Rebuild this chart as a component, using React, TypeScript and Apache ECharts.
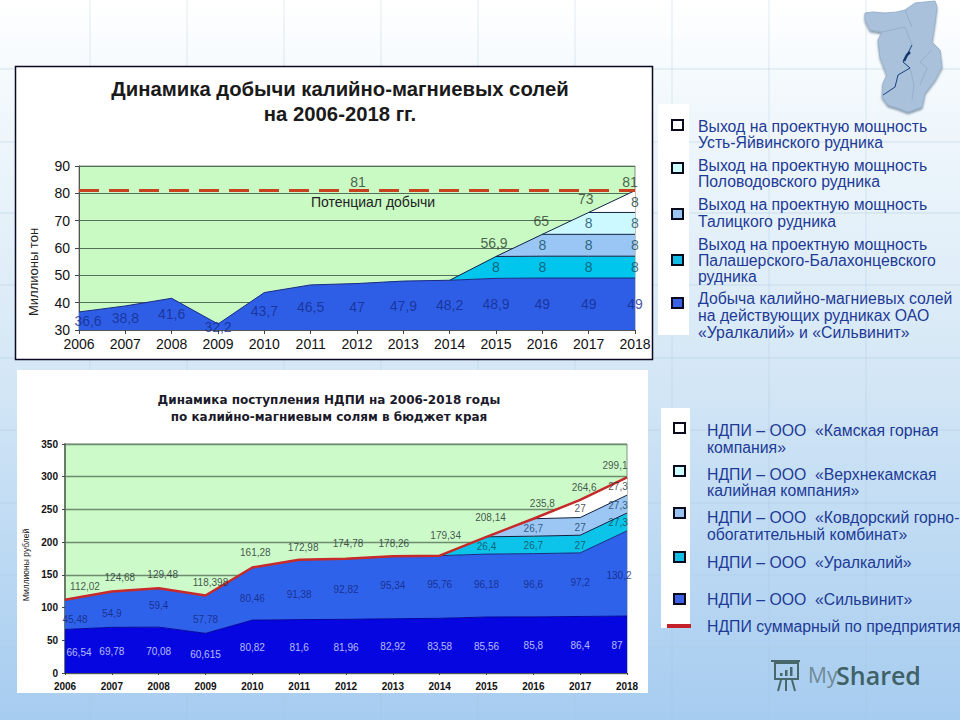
import React, { useEffect, useRef } from "react";
import * as echarts from "echarts";

const years = ["2006","2007","2008","2009","2010","2011","2012","2013","2014","2015","2016","2017","2018"];
const N: null = null;

// Upper chart: million tons
const mining = [36.6,38.8,41.6,32.2,43.7,46.5,47,47.9,48.2,48.9,49,49,49];
const palasher = [N,N,N,N,N,N,N,N,0,8,8,8,8];
const talitsky = [N,N,N,N,N,N,N,N,N,0,8,8,8];
const polovod = [N,N,N,N,N,N,N,N,N,N,0,8,8];
const ustYaiva = [N,N,N,N,N,N,N,N,N,N,N,0,8];
const potential = [81,81,81,81,81,81,81,81,81,81,81,81,81];
const miningTotals = [N,N,N,N,N,N,N,N,N,56.9,65,73,N];
const potentialLabels = [N,N,N,N,N,N,81,N,N,N,N,N,81];

// Lower chart: million rubles
const silvinit = [66.54,69.78,70.08,60.615,80.82,81.6,81.96,82.92,83.58,85.56,85.8,86.4,87];
const uralkali = [45.48,54.9,59.4,57.78,80.46,91.38,92.82,95.34,95.76,96.18,96.6,97.2,130.2];
const kovdor = [N,N,N,N,N,N,N,N,0,26.4,26.7,27,27.3];
const verkhnekamsk = [N,N,N,N,N,N,N,N,N,0,26.7,27,27.3];
const kamskaya = [N,N,N,N,N,N,N,N,N,N,0,27,27.3];
const ndpiTotal = [112.02,124.68,129.48,118.398,161.28,172.98,174.78,178.26,179.34,208.14,235.8,264.6,299.1];

const legendTop = [
  ["Выход на проектную мощность", "Усть-Яйвинского рудника"],
  ["Выход на проектную мощность", "Половодовского рудника"],
  ["Выход на проектную мощность", "Талицкого рудника"],
  ["Выход на проектную мощность", "Палашерского-Балахонцевского", "рудника"],
  ["Добыча калийно-магниевых солей", "на действующих рудниках ОАО", "«Уралкалий» и «Сильвинит»"],
];
const legendBottom = [
  ["НДПИ – ООО  «Камская горная", "компания»"],
  ["НДПИ – ООО  «Верхнекамская", "калийная компания»"],
  ["НДПИ – ООО  «Ковдорский горно-", "обогатительный комбинат»"],
  ["НДПИ – ООО  «Уралкалий»"],
  ["НДПИ – ООО  «Сильвинит»"],
  ["НДПИ суммарный по предприятиям"],
];

// Layout and style, kept apart from the values
const FONT = "'Liberation Sans', Arial, sans-serif";
const NAVY = "#1d3a96";
const topLegendLineY = [[126,142],[165,181],[204,221],[244,260,276],[298,315,332]];
const topSwatchY = [120,163,209,255,298];
const swatchColors = ["#ffffff","#ccffff","#99c4f2","#12bde6","#3b62e4"];
const botLegendLineY = [[430,447],[474,490],[517,534],[562],[599],[626]];
const botSwatchY = [423,466,508,552,594];
const gridXs = [90,187,284,381,478,575,672,769,866];
const gridYs = [69,142,213,285,358,430,503,575,647];
const mapOutline = [[865,13],[873,12],[885,13],[897,12],[905,10],[915,3],[935,1],[937,7],[935,23],[932,42],[940,50],[942,67],[935,80],[925,93],[922,107],[908,112],[898,108],[888,105],[882,97],[883,83],[887,75],[880,57],[878,40],[882,32],[870,30],[865,20]];
const mapRiver = [[912,45],[907,55],[903,62],[910,68],[898,75],[895,87],[883,95]];
const mapLake = [[910,52],[907,55],[904,61]];
const mapBorders = [[[882,32],[905,27],[912,45]],[[905,10],[912,27]],[[932,50],[920,62],[927,68],[920,85]],[[910,68],[914,85],[912,100]]];

const labelSeries = (
  grid: number, ys: (number | null)[], values: (number | null)[], color: string, size: number,
  dx: number[] | null, dy: number | number[], weight = "normal",
) => ({
  type: "scatter", xAxisIndex: grid, yAxisIndex: grid, symbolSize: 1, silent: true, z: 20,
  itemStyle: { color: "transparent" },
  data: years.flatMap((y, i) => {
    if (ys[i] == null || values[i] == null || values[i] === 0) return [];
    const off = [dx ? dx[i] : 0, Array.isArray(dy) ? dy[i] : dy];
    return [{
      value: [y, ys[i]],
      label: {
        show: true, position: "inside", offset: off, color, fontSize: size, fontFamily: FONT, fontWeight: weight,
        formatter: String(values[i]).replace(".", ","),
      },
    }];
  }),
});

const sumOf = (arrs: (number | null)[][], i: number) => arrs.reduce((s, a) => s + (a[i] ?? 0), 0);
const mids = (below: (number | null)[][], own: (number | null)[]) =>
  own.map((v, i) => (v == null ? null : sumOf(below, i) + v / 2));

const area = (name: string, grid: number, stack: string, data: (number | null)[], color: string, line: string, width = 1) => ({
  name, type: "line", xAxisIndex: grid, yAxisIndex: grid, stack, data, symbol: "none", z: 5,
  lineStyle: { color: line, width }, itemStyle: { color }, areaStyle: { color, opacity: 1 },
});

const txt = (text: string, x: number, y: number, size: number, fill: string, extra: any = {}) => ({
  type: "text", z: 30, style: { text, x, y, fill, font: `${extra.weight || "normal"} ${size}px ${FONT}`, textAlign: extra.align || "left", textVerticalAlign: "middle" },
});
const swatch = (x: number, y: number, fill: string) => ({
  type: "rect", z: 30, shape: { x, y, width: 11, height: 10 }, style: { fill, stroke: "#0b0b1e", lineWidth: 2 },
});

const buildOption = () => ({
  animation: false,
  graphic: [
    { type: "rect", z: -30, shape: { x: 0, y: 0, width: 960, height: 720 }, style: { fill: new echarts.graphic.LinearGradient(0, 0, 0, 1, [
      { offset: 0, color: "#ffffff" }, { offset: 0.1, color: "#f5fafd" }, { offset: 0.5, color: "#d6e8f6" }, { offset: 1, color: "#a6ccf0" },
    ]) } },
    ...gridXs.map((x) => ({ type: "line", z: -29, shape: { x1: x, y1: 0, x2: x, y2: 720 }, style: { stroke: "#a9c6dc", lineWidth: 1.5, opacity: 0.22 } })),
    ...gridYs.map((y) => ({ type: "line", z: -29, shape: { x1: 0, y1: y, x2: 960, y2: y }, style: { stroke: "#a9c6dc", lineWidth: 1.5, opacity: 0.3 } })),
    { type: "rect", z: -20, shape: { x: 15.5, y: 66.5, width: 637, height: 293 }, style: { fill: "#ffffff", stroke: "#0a0a20", lineWidth: 1.5 } },
    { type: "rect", z: -20, shape: { x: 17, y: 370, width: 631, height: 323 }, style: { fill: "#ffffff" } },
    { type: "rect", z: -20, shape: { x: 658, y: 104, width: 31, height: 231 }, style: { fill: "#ffffff" } },
    { type: "rect", z: -20, shape: { x: 661, y: 408, width: 29, height: 220 }, style: { fill: "#ffffff" } },
    { type: "polygon", z: 25, shape: { points: mapOutline }, style: { fill: "#a9c1db", stroke: "#9bb3cd", lineWidth: 1, shadowColor: "rgba(60,90,120,0.6)", shadowBlur: 2, shadowOffsetY: 2 } },
    ...mapBorders.map((points) => ({ type: "polyline", z: 26, shape: { points }, style: { stroke: "#97afca", lineWidth: 1, fill: "none" } })),
    { type: "polyline", z: 27, shape: { points: mapRiver }, style: { stroke: "#16407e", lineWidth: 1, fill: "none" } },
    { type: "polyline", z: 27, shape: { points: mapLake }, style: { stroke: "#12386e", lineWidth: 2.5, fill: "none" } },
    txt("Потенциал добычи", 373, 202, 14, "#222222", { align: "center" }),
    ...legendTop.flatMap((lines, i) => lines.map((l, j) => txt(l, 698, topLegendLineY[i][j], 15.8, NAVY))),
    ...swatchColors.map((c, i) => swatch(672, topSwatchY[i], c)),
    ...legendBottom.flatMap((lines, i) => lines.map((l, j) => txt(l, 707, botLegendLineY[i][j], 15.8, NAVY))),
    ...swatchColors.map((c, i) => swatch(674, botSwatchY[i], c)),
    { type: "rect", z: 30, shape: { x: 667, y: 624, width: 24, height: 4 }, style: { fill: "#c4212a" } },
    // MyShared mark
    { type: "rect", z: 30, shape: { x: 775, y: 663, width: 23, height: 16 }, style: { fill: "none", stroke: "#48686a", lineWidth: 2 } },
    { type: "line", z: 30, shape: { x1: 771, y1: 661, x2: 800, y2: 661 }, style: { stroke: "#48686a", lineWidth: 2 } },
    { type: "rect", z: 30, shape: { x: 780, y: 673, width: 2.5, height: 3 }, style: { fill: "#48686a" } },
    { type: "rect", z: 30, shape: { x: 785, y: 670, width: 2.5, height: 6 }, style: { fill: "#48686a" } },
    { type: "rect", z: 30, shape: { x: 790, y: 667, width: 2.5, height: 9 }, style: { fill: "#48686a" } },
    { type: "line", z: 30, shape: { x1: 781, y1: 680, x2: 778, y2: 691 }, style: { stroke: "#48686a", lineWidth: 2 } },
    { type: "line", z: 30, shape: { x1: 786, y1: 680, x2: 786, y2: 691 }, style: { stroke: "#48686a", lineWidth: 2 } },
    { type: "line", z: 30, shape: { x1: 792, y1: 680, x2: 795, y2: 691 }, style: { stroke: "#48686a", lineWidth: 2 } },
    { type: "text", z: 30, style: { text: "My", x: 808, y: 675, fill: "#6f8a96", font: "normal 21px 'Open Sans', sans-serif", textVerticalAlign: "middle" } },
    { type: "text", z: 30, style: { text: "Shared", x: 836, y: 675, fill: "#3f6266", font: "600 25px 'Open Sans', sans-serif", textVerticalAlign: "middle" } },
  ],
  title: [
    { text: "Динамика добычи калийно-магниевых солей\nна 2006-2018 гг.", left: 335, top: 71, textAlign: "center",
      textStyle: { fontFamily: FONT, fontWeight: "bold", fontSize: 20.3, color: "#1a1a1a", lineHeight: 25 } },
    { text: "Динамика поступления НДПИ на 2006-2018 годы\nпо калийно-магниевым солям в бюджет края", left: 324, top: 386, textAlign: "center",
      textStyle: { fontFamily: "'DejaVu Sans', sans-serif", fontWeight: "bold", fontSize: 12, color: "#1a1a2a", lineHeight: 17 } },
  ],
  grid: [
    { left: 79, right: 325, top: 166, height: 164, show: true, backgroundColor: "#c9fac4", borderColor: "#888f80", borderWidth: 1 },
    { left: 65, right: 333, top: 444, height: 229, show: true, backgroundColor: "#cdfac9", borderColor: "#7f957f", borderWidth: 1 },
  ],
  xAxis: [
    { gridIndex: 0, type: "category", boundaryGap: false, data: years,
      axisLine: { lineStyle: { color: "#555" } }, axisTick: { length: 4, lineStyle: { color: "#444" } },
      axisLabel: { interval: 0, color: "#111", fontFamily: FONT, fontSize: 14, margin: 7, hideOverlap: false } },
    { gridIndex: 1, type: "category", boundaryGap: false, data: years,
      axisLine: { lineStyle: { color: "#555" } }, axisTick: { length: 2, lineStyle: { color: "#444" } },
      axisLabel: { interval: 0, color: "#111", fontFamily: FONT, fontSize: 10, fontWeight: "bold", margin: 8 } },
  ],
  yAxis: [
    { gridIndex: 0, type: "value", min: 30, max: 90, interval: 10,
      name: "Миллионы тон", nameLocation: "middle", nameGap: 39, nameRotate: 90,
      nameTextStyle: { color: "#222", fontFamily: FONT, fontSize: 13, padding: [0, 48, 0, 0] },
      axisLine: { show: true, lineStyle: { color: "#555" } }, axisTick: { show: true, length: 4, lineStyle: { color: "#444" } },
      splitLine: { lineStyle: { color: "#55705a", width: 1 } },
      axisLabel: { color: "#111", fontFamily: FONT, fontSize: 14, margin: 9 } },
    { gridIndex: 1, type: "value", min: 0, max: 350, interval: 50,
      name: "Миллионы рублей", nameLocation: "middle", nameGap: 31, nameRotate: 90,
      nameTextStyle: { color: "#222", fontFamily: FONT, fontSize: 8.5, padding: [0, 13, 0, 0] },
      axisLine: { show: true, lineStyle: { color: "#6b7b6b", width: 2 } }, axisTick: { show: true, length: 3, lineStyle: { color: "#444" } },
      splitLine: { lineStyle: { color: "#6e8c70", width: 1.3 } },
      axisLabel: { color: "#111", fontFamily: FONT, fontSize: 10, fontWeight: "bold", margin: 7 } },
  ],
  series: [
    area("Добыча калийно-магниевых солей", 0, "a", mining, "#2f5ee6", "#1a2a80"),
    area("Палашерско-Балахонцевский рудник", 0, "a", palasher, "#00c6ee", "#112244"),
    area("Талицкий рудник", 0, "a", talitsky, "#99c6f4", "#112244"),
    area("Половодовский рудник", 0, "a", polovod, "#ccf8ff", "#112244"),
    area("Усть-Яйвинский рудник", 0, "a", ustYaiva, "#ffffff", "#112244"),
    { name: "Потенциал добычи", type: "line", xAxisIndex: 0, yAxisIndex: 0, data: potential, symbol: "none", z: 8,
      lineStyle: { color: "#c8401e", width: 3, type: [20, 10] } },
    labelSeries(0, mining.map((v) => 30 + (v - 30) / 2), mining, "#142c8c", 14, [9,0,0,0,0,0,0,0,0,0,0,0,0], 0),
    labelSeries(0, mids([mining], palasher), palasher, "#0f4a60", 14, null, 0),
    labelSeries(0, mids([mining, palasher], talitsky), talitsky, "#0f4a60", 14, null, 0),
    labelSeries(0, mids([mining, palasher, talitsky], polovod), polovod, "#0f4a60", 14, null, 0),
    labelSeries(0, mids([mining, palasher, talitsky, polovod], ustYaiva), ustYaiva, "#0f3a30", 14, null, 0),
    labelSeries(0, miningTotals, miningTotals, "#2a3a2a", 14, [0,0,0,0,0,0,0,0,0,-2,-1,-3,0], -13),
    labelSeries(0, potentialLabels, potentialLabels, "#2a3a2a", 14, [0,0,0,0,0,0,1,0,0,0,0,0,-5], -9),

    area("НДПИ – ООО «Сильвинит»", 1, "b", silvinit, "#0606e0", "#0606a0"),
    area("НДПИ – ООО «Уралкалий»", 1, "b", uralkali, "#2f62ea", "#1a2a80"),
    area("НДПИ – ООО «Ковдорский»", 1, "b", kovdor, "#0cc4ea", "#102040"),
    area("НДПИ – ООО «Верхнекамская»", 1, "b", verkhnekamsk, "#9cc6f4", "#102040"),
    area("НДПИ – ООО «Камская»", 1, "b", kamskaya, "#ffffff", "#102040"),
    { name: "НДПИ суммарный", type: "line", xAxisIndex: 1, yAxisIndex: 1, data: ndpiTotal, symbol: "none", z: 8,
      lineStyle: { color: "#c62a2a", width: 2.5 } },
    labelSeries(1, mids([], silvinit), silvinit, "#e0e6ff", 10, [14,0,0,0,0,0,0,0,0,0,0,0,-10], 1),
    labelSeries(1, mids([silvinit], uralkali), uralkali, "#14247a", 10, [10,0,0,0,0,0,0,0,0,0,0,0,-8], [5,4,-2,5,5,5,0,-2,-2,-1,-1,-2,2]),
    labelSeries(1, mids([silvinit, uralkali], kovdor), kovdor, "#0f4a50", 10, [0,0,0,0,0,0,0,0,0,0,0,0,-9], 1),
    labelSeries(1, mids([silvinit, uralkali, kovdor], verkhnekamsk), verkhnekamsk, "#0f4060", 10, [0,0,0,0,0,0,0,0,0,0,0,0,-9], 1),
    labelSeries(1, mids([silvinit, uralkali, kovdor, verkhnekamsk], kamskaya), kamskaya, "#1a2a2a", 10, [0,0,0,0,0,0,0,0,0,0,0,0,-9], 0),
    labelSeries(1, ndpiTotal, ndpiTotal, "#1a2a2a", 10, [20,8,4,5,3,4,2,1,6,4,9,4,-12], [-13,-14,-14,-13,-15,-12,-15,-13,-20,-19,-15,-12,-12]),
  ],
});

export default function App() {
  const ref = useRef<HTMLDivElement>(null);
  useEffect(() => {
    document.body.style.margin = "0";
    const chart = echarts.init(ref.current!, undefined, { renderer: "svg" });
    chart.setOption(buildOption() as any);
    return () => chart.dispose();
  }, []);
  return <div ref={ref} style={{ position: "absolute", left: 0, top: 0, width: 960, height: 720, overflow: "hidden" }} />;
}
